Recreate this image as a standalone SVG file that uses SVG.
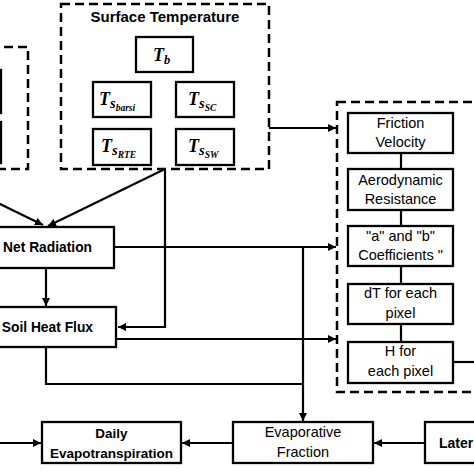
<svg xmlns="http://www.w3.org/2000/svg" width="474" height="474" viewBox="0 0 474 474">
<style>
.box{fill:#fff;stroke:#000;stroke-width:2.3}
.dash{fill:none;stroke:#000;stroke-width:2.5;stroke-dasharray:9 5}
.ln{fill:none;stroke:#000;stroke-width:2.2}
.b{font-family:"Liberation Sans",Arial,sans-serif;font-weight:bold;font-size:13.5px;fill:#000}
.b15{font-size:15px}
.b14{font-size:13.8px}
.r{font-family:"Liberation Sans",Arial,sans-serif;font-size:14.5px;fill:#000;text-anchor:middle}
.m{font-family:"Liberation Serif","Times New Roman",serif;font-weight:bold;font-style:italic;font-size:18px;fill:#000}
.s1{font-size:14.5px}
.s2{font-size:9.5px}
</style>
<defs>
<marker id="ah" markerUnits="userSpaceOnUse" markerWidth="9" markerHeight="8" refX="8" refY="4" orient="auto">
<path d="M0,0 L8,4 L0,8 z" fill="#000"/>
</marker>
</defs>
<rect width="474" height="474" fill="#fff"/>

<g id="connectors">
<path class="ln" d="M-70,170 L43,225" marker-end="url(#ah)"/>
<path class="ln" d="M165,169 L48,226" marker-end="url(#ah)"/>
<path class="ln" d="M165,169 L165,327 L118,327" marker-end="url(#ah)"/>
<path class="ln" d="M269,128 L336,128" marker-end="url(#ah)"/>
<path class="ln" d="M114,247 L336,247" marker-end="url(#ah)"/>
<path class="ln" d="M303,247 L303,421" marker-end="url(#ah)"/>
<path class="ln" d="M46,268 L46,306" marker-end="url(#ah)"/>
<path class="ln" d="M116,339 L336,339" marker-end="url(#ah)"/>
<path class="ln" d="M46,347 L46,384 L303,384"/>
<path class="ln" d="M401,153 L401,169 M401,210 L401,226 M401,266 L401,284 M401,324 L401,342"/>
<path class="ln" d="M453,362 L480,362"/>
<path class="ln" d="M425,443 L374,443" marker-end="url(#ah)"/>
<path class="ln" d="M233,443 L182,443" marker-end="url(#ah)"/>
<path class="ln" d="M-5,443 L41,443" marker-end="url(#ah)"/>
</g>

<g id="left-group">
<rect class="dash" x="-80" y="47" width="108" height="122"/>
<rect class="box" x="-60" y="70" width="61" height="43"/>
<rect class="box" x="-60" y="122" width="61" height="41"/>
</g>

<g id="surface-temperature">
<rect class="dash" x="61" y="4" width="208" height="165"/>
<text class="b b15" x="165" y="22" text-anchor="middle">Surface Temperature</text>
</g>
<g id="tb">
<rect class="box" x="136" y="37" width="57" height="35"/>
<text class="m" x="153" y="61">T<tspan style="font-size:12.5px" dy="3">b</tspan></text>
</g>
<g id="ts-barsi">
<rect class="box" x="93" y="82" width="58" height="35"/>
<text class="m" x="99" y="105">T<tspan class="s1" dy="3">s</tspan><tspan class="s2" dy="3">barsi</tspan></text>
</g>
<g id="ts-sc">
<rect class="box" x="176" y="82" width="58" height="35"/>
<text class="m" x="188" y="105">T<tspan class="s1" dy="3">s</tspan><tspan class="s2" dy="3">SC</tspan></text>
</g>
<g id="ts-rte">
<rect class="box" x="93" y="129" width="58" height="36"/>
<text class="m" x="101" y="152">T<tspan class="s1" dy="3">s</tspan><tspan class="s2" dy="3">RTE</tspan></text>
</g>
<g id="ts-sw">
<rect class="box" x="176" y="129" width="58" height="36"/>
<text class="m" x="188" y="152">T<tspan class="s1" dy="3">s</tspan><tspan class="s2" dy="3">SW</tspan></text>
</g>

<g id="net-radiation">
<rect class="box" x="-20" y="227" width="134" height="41"/>
<text class="b b14" x="92" y="252" text-anchor="end">Net Radiation</text>
</g>
<g id="soil-heat-flux">
<rect class="box" x="-20" y="307" width="136" height="40"/>
<text class="b b14" x="93" y="332" text-anchor="end">Soil Heat Flux</text>
</g>

<g id="sensible-heat-group">
<rect class="dash" x="337" y="102" width="160" height="290"/>
</g>
<g id="friction-velocity">
<rect class="box" x="348" y="113" width="105" height="40"/>
<text class="r" x="400.5" y="128">Friction</text>
<text class="r" x="400.5" y="147">Velocity</text>
</g>
<g id="aerodynamic-resistance">
<rect class="box" x="348" y="169" width="105" height="41"/>
<text class="r" x="400.5" y="185">Aerodynamic</text>
<text class="r" x="400.5" y="204">Resistance</text>
</g>
<g id="coefficients">
<rect class="box" x="348" y="226" width="105" height="40"/>
<text class="r" x="400.5" y="241">"a" and "b"</text>
<text class="r" x="400.5" y="260">Coefficients "</text>
</g>
<g id="dt">
<rect class="box" x="348" y="284" width="105" height="40"/>
<text class="r" x="400.5" y="298">dT for each</text>
<text class="r" x="400.5" y="318">pixel</text>
</g>
<g id="h">
<rect class="box" x="348" y="342" width="105" height="41"/>
<text class="r" x="400.5" y="356">H for</text>
<text class="r" x="400.5" y="376">each pixel</text>
</g>

<g id="daily-et">
<rect class="box" x="42" y="422" width="139" height="41"/>
<text class="b" x="111.5" y="438" text-anchor="middle">Daily</text>
<text class="b" x="111.5" y="458" text-anchor="middle">Evapotranspiration</text>
</g>
<g id="evaporative-fraction">
<rect class="box" x="233" y="422" width="140" height="41"/>
<text class="r" x="303" y="437">Evaporative</text>
<text class="r" x="303" y="457">Fraction</text>
</g>
<g id="latent">
<rect class="box" x="425" y="422" width="100" height="41"/>
<text class="b" x="439" y="448" style="font-size:14px">Later</text>
</g>
</svg>
